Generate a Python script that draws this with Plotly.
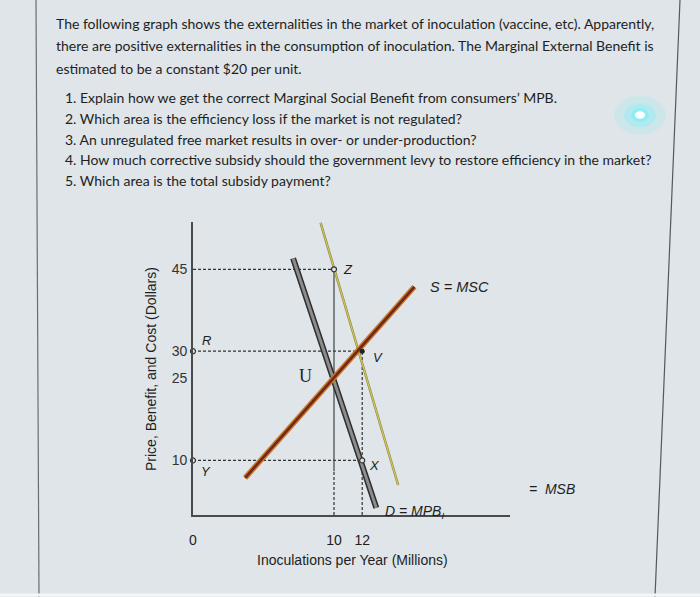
import plotly.graph_objects as go

# ---------------- data ----------------
msc_q = [3.7, 15.7]
msc_p = [6.8, 41.8]
mpb_q = [7.1, 13.0]
mpb_p = [47.0, 1.3]
msb_q = [9.05, 14.55]
msb_p = [53.5, 5.5]

pt_names = ["R", "Y", "Z", "V", "X", "U"]
pt_q = [0, 0, 10, 12, 12, 10]
pt_p = [30, 10, 45, 30, 10, 25]

y_ticks = [10, 25, 30, 45]
y_ticktext = ["10", "25", "30", "45"]
x_ticks = [0, 10, 12]
x_ticktext = ["0", "10", "12"]

intro_lines = [
    "The following graph shows the externalities in the market of inoculation (vaccine, etc). Apparently,",
    "there are positive externalities in the consumption of inoculation. The Marginal External Benefit is",
    "estimated to be a constant $20 per unit.",
]
questions = [
    "1. Explain how we get the correct Marginal Social Benefit from consumers\u2019 MPB.",
    "2. Which area is the efficiency loss if the market is not regulated?",
    "3. An unregulated free market results in over- or under-production?",
    "4. How much corrective subsidy should the government levy to restore efficiency in the market?",
    "5. Which area is the total subsidy payment?",
]

# ---------------- layout geometry (pixels) ----------------
W, H = 700, 597
L, R, T, B = 193, 510, 222, 515
XPU, YPU = 14.1, 5.46
XMAX = (R - L) / XPU
YMAX = (B - T) / YPU


def px(x, y):
    return (x - L) / (R - L), (B - y) / (B - T)


BG = "#dfe5e8"
INK = "#1e1e1e"
SANS = "Liberation Sans, Arial"
fig = go.Figure()

# dashed guides
DASH = dict(color="#333333", width=1.2, dash="3px,2px")
P = dict(zip(pt_names, zip(pt_q, pt_p)))
guides = [
    ([0, P["Z"][0]], [P["Z"][1], P["Z"][1]]),
    ([0, P["V"][0]], [P["V"][1], P["V"][1]]),
    ([0, P["X"][0]], [P["X"][1], P["X"][1]]),
    ([P["V"][0], P["V"][0]], [0, P["V"][1]]),
    ([P["U"][0], P["U"][0]], [0, 8]),
]
for gx, gy in guides:
    fig.add_trace(go.Scatter(x=gx, y=gy, mode="lines", line=DASH,
                             hoverinfo="skip", showlegend=False))
fig.add_trace(go.Scatter(x=[P["U"][0], P["U"][0]], y=[8, P["Z"][1]], mode="lines",
                         line=dict(color="#444444", width=1.2),
                         hoverinfo="skip", showlegend=False))

# MSB (thin olive line)
fig.add_trace(go.Scatter(x=msb_q, y=msb_p, mode="lines",
                         line=dict(color="#8c8440", width=2.4), showlegend=False))
fig.add_trace(go.Scatter(x=msb_q, y=msb_p, mode="lines",
                         line=dict(color="#d3c65a", width=1.2), showlegend=False))
# MPB (thick grey outlined)
fig.add_trace(go.Scatter(x=mpb_q, y=mpb_p, mode="lines",
                         line=dict(color="#2e2e2e", width=6), showlegend=False))
fig.add_trace(go.Scatter(x=mpb_q, y=mpb_p, mode="lines",
                         line=dict(color="#8d8d8d", width=3), showlegend=False))
# MSC (orange-brown)
fig.add_trace(go.Scatter(x=msc_q, y=msc_p, mode="lines",
                         line=dict(color="#c9772f", width=5.5), showlegend=False))
fig.add_trace(go.Scatter(x=msc_q, y=msc_p, mode="lines",
                         line=dict(color="#6e2a14", width=2.6), showlegend=False))

# point markers
fig.add_trace(go.Scatter(x=[P["R"][0], P["Y"][0], P["Z"][0], P["X"][0]],
                         y=[P["R"][1], P["Y"][1], P["Z"][1], P["X"][1]],
                         mode="markers", cliponaxis=False,
                         marker=dict(size=5, color=BG, line=dict(color="#333", width=1.2)),
                         showlegend=False))
fig.add_trace(go.Scatter(x=[P["V"][0]], y=[P["V"][1]], mode="markers",
                         marker=dict(size=5, color="#222"), showlegend=False))

# point labels
lab_font = dict(family=SANS, size=13, color=INK)
offsets = {"R": (0.95, 31.9), "Y": (0.95, 8.0), "Z": (11.0, 45.0),
           "V": (13.1, 28.9), "X": (12.9, 9.1)}
for n, (ox, oy) in offsets.items():
    fig.add_annotation(x=ox, y=oy, text="<i>%s</i>" % n, showarrow=False,
                       xanchor="center", yanchor="middle", font=lab_font)
fig.add_annotation(x=8.0, y=25.4, text="U", showarrow=False,
                   xanchor="center", yanchor="middle",
                   font=dict(family="Liberation Serif, Times New Roman", size=18, color=INK))
fig.add_annotation(x=18.9, y=41.8, text="<i>S = MSC</i>", showarrow=False,
                   xanchor="center", yanchor="middle",
                   font=dict(family=SANS, size=14.5, color=INK))
fig.add_annotation(x=13.5, y=0.6, text="<i>D = MPB<sub>I</sub></i>", showarrow=False,
                   xanchor="left", yanchor="middle",
                   font=dict(family=SANS, size=14, color=INK))
mx, my = px(527, 489)
fig.add_annotation(xref="paper", yref="paper", x=mx, y=my, text="<i>=  MSB</i>",
                   showarrow=False, xanchor="left", yanchor="middle",
                   font=dict(family=SANS, size=14, color=INK))

# axis titles
tx, ty = px(352, 560)
fig.add_annotation(xref="paper", yref="paper", x=tx, y=ty,
                   text="Inoculations per Year (Millions)", showarrow=False,
                   xanchor="center", yanchor="middle",
                   font=dict(family=SANS, size=14, color=INK))
tx, ty = px(151, 369)
fig.add_annotation(xref="paper", yref="paper", x=tx, y=ty, textangle=-90,
                   text="Price, Benefit, and Cost (Dollars)", showarrow=False,
                   xanchor="center", yanchor="middle",
                   font=dict(family=SANS, size=14, color=INK))

# question text
TXT = dict(family="Lato", size=14, color=INK)
for i, line in enumerate(intro_lines):
    ax_, ay_ = px(54, 23 + 22.5 * i)
    fig.add_annotation(xref="paper", yref="paper", x=ax_, y=ay_, text=line,
                       showarrow=False, xanchor="left", yanchor="middle", font=TXT)
for i, line in enumerate(questions):
    ax_, ay_ = px(63, 98 + 20.5 * i)
    fig.add_annotation(xref="paper", yref="paper", x=ax_, y=ay_, text=line,
                       showarrow=False, xanchor="left", yanchor="middle", font=TXT)

# page edges and glare
def seg(x0, y0, x1, y1, color, width):
    a0, b0 = px(x0, y0)
    a1, b1 = px(x1, y1)
    fig.add_shape(type="line", xref="paper", yref="paper", x0=a0, y0=b0, x1=a1, y1=b1,
                  line=dict(color=color, width=width), layer="below")

seg(36, 0, 39, 597, "#6a6e70", 1.2)
seg(680, 0, 655, 597, "#55595b", 1.2)
seg(0, 595, 700, 595, "#f4f6f7", 3)
for r, op in [(26, 0.18), (16, 0.35), (9, 0.7), (5, 1.0)]:
    a0, b0 = px(640 - r, 115 - r * 0.75)
    a1, b1 = px(640 + r, 115 + r * 0.75)
    fig.add_shape(type="circle", xref="paper", yref="paper", x0=a0, y0=b0, x1=a1, y1=b1,
                  fillcolor="#7ff0f5" if r > 5 else "#ffffff", opacity=op,
                  line=dict(width=0), layer="below")

fig.update_layout(
    width=W, height=H,
    margin=dict(l=L, r=W - R, t=T, b=H - B),
    paper_bgcolor=BG, plot_bgcolor=BG,
    showlegend=False,
)
fig.update_xaxes(range=[0, XMAX], showgrid=False, zeroline=False,
                 showline=True, linecolor="#4a4a4a", linewidth=1.6,
                 tickvals=x_ticks, ticktext=x_ticktext, ticks="",
                 ticklabelstandoff=11,
                 tickfont=dict(family=SANS, size=14, color=INK))
fig.update_yaxes(range=[0, YMAX], showgrid=False, zeroline=False,
                 showline=True, linecolor="#4a4a4a", linewidth=1.6,
                 tickvals=y_ticks, ticktext=y_ticktext, ticks="",
                 ticklabelstandoff=1,
                 tickfont=dict(family=SANS, size=14, color="#333"))

fig.write_html(
    "out.html",
    config={"displayModeBar": False},
    post_script="document.body.style.margin='0';document.body.style.background='%s';" % BG,
)
